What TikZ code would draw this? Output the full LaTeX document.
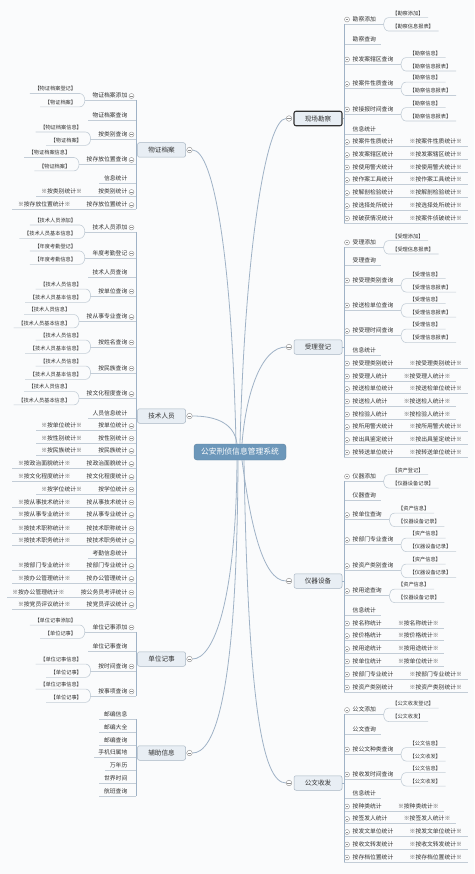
\documentclass[tikz,border=0pt]{standalone}
\usepackage{fontspec}
\setmainfont{Noto Sans CJK SC}
\usetikzlibrary{positioning}
\definecolor{bgcol}{HTML}{FAFBFC}
\definecolor{txtcol}{HTML}{333333}
\definecolor{ulcol}{HTML}{C3CDD7}
\definecolor{linecol}{HTML}{9FB2C6}
\definecolor{foldcol}{HTML}{8C8C8C}
\definecolor{boxfill}{HTML}{E8EEF4}
\definecolor{boxdraw}{HTML}{A7B5C3}
\definecolor{rootfill}{HTML}{6C97BA}
\tikzset{
  item/.style={inner xsep=0.5pt, inner ysep=1.3pt, text height=4.6pt, text depth=1.1pt,
    font=\fontsize{5.8}{6}\selectfont, text=txtcol},
  leaf/.style={item, font=\fontsize{5.2}{6}\selectfont},
  branch/.style={draw=boxdraw, fill=boxfill, rounded corners=2pt, line width=0.5pt,
    minimum width=48pt, minimum height=14.5pt, inner sep=1pt,
    font=\fontsize{6.6}{7}\selectfont, text=txtcol},
  root/.style={draw=rootfill!85!black, fill=rootfill, rounded corners=3pt, line width=0.4pt,
    minimum width=92pt, minimum height=16pt, inner sep=1pt,
    font=\fontsize{7.8}{8}\selectfont, text=white},
  fold/.style={circle, draw=foldcol, fill=white, line width=0.4pt, inner sep=0pt, minimum size=5pt,
    path picture={\draw[foldcol, line width=0.4pt]
      ([xshift=1.1pt]path picture bounding box.west) -- ([xshift=-1.1pt]path picture bounding box.east);}},
  bfold/.style={fold, minimum size=5.6pt},
  uline/.style={ulcol, line width=0.6pt},
  vline/.style={linecol, line width=0.7pt},
  link/.style={linecol, line width=0.8pt},
}
% right side: line at x=344, text from x=352
\newcommand\rplain[3]{%
  \node[item, anchor=west] (#1) at (352,#2) {#3};
  \draw[uline] ([xshift=-8pt]#1.south west) -- ([xshift=4pt]#1.south east);
}
\newcommand\rpair[5]{%
  \rplain{#1}{#2}{#3}
  \node[fold] (#1f) at (347,#2) {};
  \node[leaf, anchor=west] (#1a) at ([xshift=15pt,yshift=6.2pt]#1.east) {#4};
  \node[leaf, anchor=west] (#1b) at ([xshift=15pt,yshift=-7.2pt]#1.east) {#5};
  \coordinate (#1m) at ([xshift=7pt]#1.south east);
  \draw[uline] (#1.south east) -- (#1m);
  \draw[uline] (#1m) to[out=90,in=180] ([xshift=-3pt]#1a.south west) -- ([xshift=4pt]#1a.south east);
  \draw[uline] (#1m) to[out=-90,in=180] ([xshift=-3pt]#1b.south west) -- ([xshift=4pt]#1b.south east);
}
\newcommand\rstat[4]{%
  \rplain{#1}{#2}{#3}
  \node[fold] (#1f) at (347,#2) {};
  \node[item, right=15pt of #1] (#1s) {#4};
  \draw[uline] (#1.south east) -- ([xshift=5pt]#1s.south east);
}
% left side: line at x=136, text up to x=128
\newcommand\lplain[3]{%
  \node[item, anchor=east] (#1) at (128,#2) {#3};
  \draw[uline] ([xshift=8pt]#1.south east) -- ([xshift=-4pt]#1.south west);
}
\newcommand\lpair[5]{%
  \lplain{#1}{#2}{#3}
  \node[fold] (#1f) at (131.5,#2) {};
  \node[leaf, anchor=east] (#1a) at ([xshift=-15pt,yshift=6.8pt]#1.west) {#4};
  \node[leaf, anchor=east] (#1b) at ([xshift=-15pt,yshift=-6.5pt]#1.west) {#5};
  \coordinate (#1m) at ([xshift=-7pt]#1.south west);
  \draw[uline] (#1.south west) -- (#1m);
  \draw[uline] (#1m) to[out=90,in=0] ([xshift=3pt]#1a.south east) -- ([xshift=-4pt]#1a.south west);
  \draw[uline] (#1m) to[out=-90,in=0] ([xshift=3pt]#1b.south east) -- ([xshift=-4pt]#1b.south west);
}
\newcommand\lstat[4]{%
  \lplain{#1}{#2}{#3}
  \node[fold] (#1f) at (131.5,#2) {};
  \node[item, left=15pt of #1] (#1s) {#4};
  \draw[uline] (#1.south west) -- ([xshift=-5pt]#1s.south west);
}
\begin{document}
\begin{tikzpicture}[x=1pt,y=-1pt]
  \useasboundingbox (0,0) rectangle (474,874);
  \fill[bgcol] (0,0) rectangle (474,874);
  \node[root] (root) at (240,452) {公安刑侦信息管理系统};
  % 现场勘察
  \node[branch, draw=black!80, line width=1.1pt] (kc) at (318,118.5) {现场勘察};
  \node[bfold] (kcf) at (289,118.5) {};
  \rpair{kc1}{19.5}{勘察添加}{【勘察添加】}{【勘察信息报表】}
  \rplain{kc2}{39.5}{勘察查询}
  \rpair{kc3}{59.5}{按发案辖区查询}{【勘察信息】}{【勘察信息报表】}
  \rpair{kc4}{84}{按案件性质查询}{【勘察信息】}{【勘察信息报表】}
  \rpair{kc5}{109.5}{按接报时间查询}{【勘察信息】}{【勘察信息报表】}
  \rplain{kc6}{129.5}{信息统计}
  \rstat{kc7}{142}{按案件性质统计}{※按案件性质统计※}
  \rstat{kc8}{155}{按发案辖区统计}{※按发案辖区统计※}
  \rstat{kc9}{167.5}{按使用警犬统计}{※按使用警犬统计※}
  \rstat{kc10}{180}{按作案工具统计}{※按作案工具统计※}
  \rstat{kc11}{193}{按解剖检验统计}{※按解剖检验统计※}
  \rstat{kc12}{206}{按选择处所统计}{※按选择处所统计※}
  \rstat{kc13}{218.5}{按破获情况统计}{※按案件侦破统计※}
  \draw[vline] ([xshift=-8pt]kc1.south west) -- ([xshift=-8pt]kc13.south west);
  \draw[vline] (kc.east) -- ++(2.5pt,0);
  % 受理登记
  \node[branch] (sl) at (318,347) {受理登记};
  \node[bfold] (slf) at (289,347) {};
  \rpair{sl1}{242.5}{受理添加}{【受理添加】}{【受理信息报表】}
  \rplain{sl2}{261}{受理查询}
  \rpair{sl3}{280.5}{按受理类别查询}{【受理信息】}{【受理信息报表】}
  \rpair{sl4}{305.5}{按送检单位查询}{【受理信息】}{【受理信息报表】}
  \rpair{sl5}{331}{按受理时间查询}{【受理信息】}{【受理信息报表】}
  \rplain{sl6}{351}{信息统计}
  \rstat{sl7}{363.5}{按受理类别统计}{※按受理类别统计※}
  \rstat{sl8}{376.5}{按受理人统计}{※按受理人统计※}
  \rstat{sl9}{389}{按送检单位统计}{※按送检单位统计※}
  \rstat{sl10}{401.5}{按送检人统计}{※按送检人统计※}
  \rstat{sl11}{414.5}{按检验人统计}{※按检验人统计※}
  \rstat{sl12}{427}{按所用警犬统计}{※按所用警犬统计※}
  \rstat{sl13}{440}{按出具鉴定统计}{※按出具鉴定统计※}
  \rstat{sl14}{452.5}{按转送单位统计}{※按转送单位统计※}
  \draw[vline] ([xshift=-8pt]sl1.south west) -- ([xshift=-8pt]sl14.south west);
  \draw[vline] (sl.east) -- ++(2.5pt,0);
  % 仪器设备
  \node[branch] (yq) at (318,581) {仪器设备};
  \node[bfold] (yqf) at (289,581) {};
  \rpair{yq1}{476.5}{仪器添加}{【资产登记】}{【仪器设备记录】}
  \rplain{yq2}{496}{仪器查询}
  \rpair{yq3}{515}{按单位查询}{【资产信息】}{【仪器设备记录】}
  \rpair{yq4}{540}{按部门专业查询}{【资产信息】}{【仪器设备记录】}
  \rpair{yq5}{566}{按资产类别查询}{【资产信息】}{【仪器设备记录】}
  \rpair{yq6}{591}{按用途查询}{【资产信息】}{【仪器设备记录】}
  \rplain{yq7}{610.5}{信息统计}
  \rstat{yq8}{623.5}{按名称统计}{※按名称统计※}
  \rstat{yq9}{636}{按价格统计}{※按价格统计※}
  \rstat{yq10}{649}{按用途统计}{※按用途统计※}
  \rstat{yq11}{661.5}{按单位统计}{※按单位统计※}
  \rstat{yq12}{674.5}{按部门专业统计}{※按部门专业统计※}
  \rstat{yq13}{687.5}{按资产类别统计}{※按资产类别统计※}
  \draw[vline] ([xshift=-8pt]yq1.south west) -- ([xshift=-8pt]yq13.south west);
  \draw[vline] (yq.east) -- ++(2.5pt,0);
  % 公文收发
  \node[branch] (gw) at (318,783) {公文收发};
  \node[bfold] (gwf) at (289,783) {};
  \rpair{gw1}{710}{公文添加}{【公文收发登记】}{【公文收发】}
  \rplain{gw2}{729.5}{公文查询}
  \rpair{gw3}{749.5}{按公文种类查询}{【公文信息】}{【公文收发】}
  \rpair{gw4}{774.5}{按收发时间查询}{【公文信息】}{【公文收发】}
  \rplain{gw5}{794}{信息统计}
  \rstat{gw6}{806.5}{按种类统计}{※按种类统计※}
  \rstat{gw7}{819}{按签发人统计}{※按签发人统计※}
  \rstat{gw8}{832}{按发文单位统计}{※按发文单位统计※}
  \rstat{gw9}{844.5}{按收文转发统计}{※按收文转发统计※}
  \rstat{gw10}{857.5}{按存档位置统计}{※按存档位置统计※}
  \draw[vline] ([xshift=-8pt]gw1.south west) -- ([xshift=-8pt]gw10.south west);
  \draw[vline] (gw.east) -- ++(2.5pt,0);
  % 物证档案
  \node[branch] (wz) at (161.5,150) {物证档案};
  \node[bfold] (wzf) at (189.5,150) {};
  \lpair{wz1}{96}{物证档案添加}{【物证档案登记】}{【物证档案】}
  \lplain{wz2}{115.5}{物证档案查询}
  \lpair{wz3}{134.5}{按类别查询}{【物证档案信息】}{【物证档案】}
  \lpair{wz4}{160}{按存放位置查询}{【物证档案信息】}{【物证档案】}
  \lplain{wz5}{178.5}{信息统计}
  \lstat{wz6}{192}{按类别统计}{※按类别统计※}
  \lstat{wz7}{205}{按存放位置统计}{※按存放位置统计※}
  \draw[vline] ([xshift=8pt]wz1.south east) -- ([xshift=8pt]wz7.south east);
  \draw[vline] (wz.west) -- ++(-1.5pt,0);
  % 技术人员
  \node[branch] (js) at (161.5,416) {技术人员};
  \node[bfold] (jsf) at (189.5,416) {};
  \lpair{js1}{227.5}{技术人员添加}{【技术人员添加】}{【技术人员基本信息】}
  \lpair{js2}{253.5}{年度考勤登记}{【年度考勤登记】}{【年度考勤信息】}
  \lplain{js3}{272.5}{技术人员查询}
  \lpair{js4}{291.5}{按单位查询}{【技术人员信息】}{【技术人员基本信息】}
  \lpair{js5}{317}{按从事专业查询}{【技术人员信息】}{【技术人员基本信息】}
  \lpair{js6}{342.5}{按姓名查询}{【技术人员信息】}{【技术人员基本信息】}
  \lpair{js7}{368.5}{按民族查询}{【技术人员信息】}{【技术人员基本信息】}
  \lpair{js8}{394}{按文化程度查询}{【技术人员信息】}{【技术人员基本信息】}
  \lplain{js9}{413.5}{人员信息统计}
  \lstat{js10}{426}{按单位统计}{※按单位统计※}
  \lstat{js11}{438.5}{按性别统计}{※按性别统计※}
  \lstat{js12}{451}{按民族统计}{※按民族统计※}
  \lstat{js13}{464}{按政治面貌统计}{※按政治面貌统计※}
  \lstat{js14}{477}{按文化程度统计}{※按文化程度统计※}
  \lstat{js15}{489.5}{按学位统计}{※按学位统计※}
  \lstat{js16}{502.5}{按从事技术统计}{※按从事技术统计※}
  \lstat{js17}{515}{按从事专业统计}{※按从事专业统计※}
  \lstat{js18}{528.5}{按技术职称统计}{※按技术职称统计※}
  \lstat{js19}{541}{按技术职务统计}{※按技术职务统计※}
  \lplain{js20}{553.5}{考勤信息统计}
  \lstat{js21}{566}{按部门专业统计}{※按部门专业统计※}
  \lstat{js22}{579}{按办公管理统计}{※按办公管理统计※}
  \lstat{js23}{592.5}{按公务员考评统计}{※按办公管理统计※}
  \lstat{js24}{605}{按党员评议统计}{※按党员评议统计※}
  \draw[vline] ([xshift=8pt]js1.south east) -- ([xshift=8pt]js24.south east);
  \draw[vline] (js.west) -- ++(-1.5pt,0);
  % 单位记事
  \node[branch] (dw) at (161.5,659) {单位记事};
  \node[bfold] (dwf) at (189.5,659) {};
  \lpair{dw1}{627.5}{单位记事添加}{【单位记事添加】}{【单位记事】}
  \lplain{dw2}{646.5}{单位记事查询}
  \lpair{dw3}{666.5}{按时间查询}{【单位记事信息】}{【单位记事】}
  \lpair{dw4}{691.5}{按事项查询}{【单位记事信息】}{【单位记事】}
  \draw[vline] ([xshift=8pt]dw1.south east) -- ([xshift=8pt]dw4.south east);
  \draw[vline] (dw.west) -- ++(-1.5pt,0);
  % 辅助信息
  \node[branch] (fz) at (161.5,753) {辅助信息};
  \node[bfold] (fzf) at (189.5,753) {};
  \lplain{fz1}{715}{邮编信息}
  \lplain{fz2}{728}{邮编大全}
  \lplain{fz3}{740.5}{邮编查询}
  \lplain{fz4}{753}{手机归属地}
  \lplain{fz5}{765.5}{万年历}
  \lplain{fz6}{778.5}{世界时间}
  \lplain{fz7}{791.5}{航班查询}
  \draw[vline] ([xshift=8pt]fz1.south east) -- ([xshift=8pt]fz7.south east);
  \draw[vline] (fz.west) -- ++(-1.5pt,0);
  % root links
  \draw[link] (root.north) .. controls (245,250) and (266,118.5) .. (kcf.west);
  \draw[link] ([xshift=2pt]root.north) .. controls (246,392) and (262,347) .. (slf.west);
  \draw[link] ([xshift=2pt]root.south) .. controls (250,520) and (262,581) .. (yqf.west);
  \draw[link] ([xshift=4pt]root.south) .. controls (248,700) and (262,783) .. (gwf.west);
  \draw[link] ([xshift=-4pt]root.north) .. controls (232,260) and (214,150) .. (wzf.east);
  \draw[link] ([xshift=-3pt]root.north) .. controls (234,420) and (210,416) .. (jsf.east);
  \draw[link] ([xshift=-3pt]root.south) .. controls (236,600) and (214,659) .. (dwf.east);
  \draw[link] ([xshift=-2pt]root.south) .. controls (237,700) and (214,753) .. (fzf.east);
\end{tikzpicture}
\end{document}
